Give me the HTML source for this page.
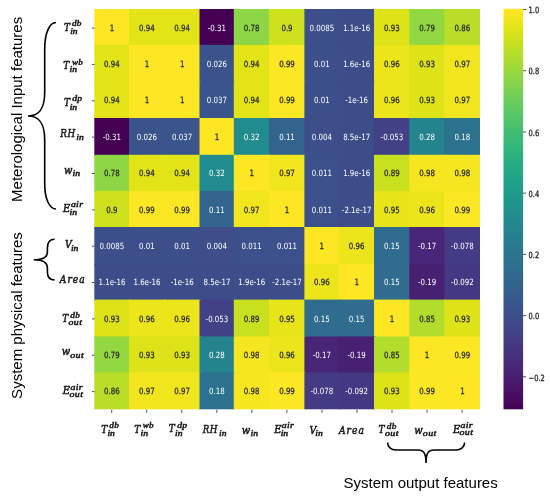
<!DOCTYPE html><html><head><meta charset="utf-8"><style>html,body{margin:0;padding:0;background:#fff;width:550px;height:497px;overflow:hidden}svg{display:block;filter:blur(0.35px)}</style></head><body>
<svg width="550" height="497" viewBox="0 0 550 497">
<rect x="94.30" y="9.00" width="36.20" height="37.40" fill="#fde725"/>
<rect x="129.00" y="9.00" width="36.75" height="37.40" fill="#e2e418"/>
<rect x="164.25" y="9.00" width="36.75" height="37.40" fill="#e2e418"/>
<rect x="199.50" y="9.00" width="35.80" height="37.40" fill="#440154"/>
<rect x="233.80" y="9.00" width="36.70" height="37.40" fill="#8ed645"/>
<rect x="269.00" y="9.00" width="36.90" height="37.40" fill="#cde11d"/>
<rect x="304.40" y="9.00" width="35.80" height="37.40" fill="#3c4f8a"/>
<rect x="338.70" y="9.00" width="36.80" height="37.40" fill="#3d4d8a"/>
<rect x="374.00" y="9.00" width="36.80" height="37.40" fill="#dde318"/>
<rect x="409.30" y="9.00" width="36.40" height="37.40" fill="#93d741"/>
<rect x="444.20" y="9.00" width="35.80" height="37.40" fill="#b8de29"/>
<rect x="94.30" y="44.90" width="36.20" height="38.05" fill="#e2e418"/>
<rect x="129.00" y="44.90" width="36.75" height="38.05" fill="#fde725"/>
<rect x="164.25" y="44.90" width="36.75" height="38.05" fill="#fde725"/>
<rect x="199.50" y="44.90" width="35.80" height="38.05" fill="#3a538b"/>
<rect x="233.80" y="44.90" width="36.70" height="38.05" fill="#e2e418"/>
<rect x="269.00" y="44.90" width="36.90" height="38.05" fill="#fbe723"/>
<rect x="304.40" y="44.90" width="35.80" height="38.05" fill="#3c4f8a"/>
<rect x="338.70" y="44.90" width="36.80" height="38.05" fill="#3d4d8a"/>
<rect x="374.00" y="44.90" width="36.80" height="38.05" fill="#ece51b"/>
<rect x="409.30" y="44.90" width="36.40" height="38.05" fill="#dde318"/>
<rect x="444.20" y="44.90" width="35.80" height="38.05" fill="#f1e51d"/>
<rect x="94.30" y="81.45" width="36.20" height="38.05" fill="#e2e418"/>
<rect x="129.00" y="81.45" width="36.75" height="38.05" fill="#fde725"/>
<rect x="164.25" y="81.45" width="36.75" height="38.05" fill="#fde725"/>
<rect x="199.50" y="81.45" width="35.80" height="38.05" fill="#39558c"/>
<rect x="233.80" y="81.45" width="36.70" height="38.05" fill="#e2e418"/>
<rect x="269.00" y="81.45" width="36.90" height="38.05" fill="#fbe723"/>
<rect x="304.40" y="81.45" width="35.80" height="38.05" fill="#3c4f8a"/>
<rect x="338.70" y="81.45" width="36.80" height="38.05" fill="#3d4d8a"/>
<rect x="374.00" y="81.45" width="36.80" height="38.05" fill="#ece51b"/>
<rect x="409.30" y="81.45" width="36.40" height="38.05" fill="#dde318"/>
<rect x="444.20" y="81.45" width="35.80" height="38.05" fill="#f1e51d"/>
<rect x="94.30" y="118.00" width="36.20" height="38.30" fill="#440154"/>
<rect x="129.00" y="118.00" width="36.75" height="38.30" fill="#3a538b"/>
<rect x="164.25" y="118.00" width="36.75" height="38.30" fill="#39558c"/>
<rect x="199.50" y="118.00" width="35.80" height="38.30" fill="#fde725"/>
<rect x="233.80" y="118.00" width="36.70" height="38.30" fill="#228b8d"/>
<rect x="269.00" y="118.00" width="36.90" height="38.30" fill="#32648e"/>
<rect x="304.40" y="118.00" width="35.80" height="38.30" fill="#3d4e8a"/>
<rect x="338.70" y="118.00" width="36.80" height="38.30" fill="#3d4d8a"/>
<rect x="374.00" y="118.00" width="36.80" height="38.30" fill="#424186"/>
<rect x="409.30" y="118.00" width="36.40" height="38.30" fill="#25838e"/>
<rect x="444.20" y="118.00" width="35.80" height="38.30" fill="#2c718e"/>
<rect x="94.30" y="154.80" width="36.20" height="37.60" fill="#8ed645"/>
<rect x="129.00" y="154.80" width="36.75" height="37.60" fill="#e2e418"/>
<rect x="164.25" y="154.80" width="36.75" height="37.60" fill="#e2e418"/>
<rect x="199.50" y="154.80" width="35.80" height="37.60" fill="#228b8d"/>
<rect x="233.80" y="154.80" width="36.70" height="37.60" fill="#fde725"/>
<rect x="269.00" y="154.80" width="36.90" height="37.60" fill="#f1e51d"/>
<rect x="304.40" y="154.80" width="35.80" height="37.60" fill="#3c508b"/>
<rect x="338.70" y="154.80" width="36.80" height="37.60" fill="#3d4d8a"/>
<rect x="374.00" y="154.80" width="36.80" height="37.60" fill="#c8e020"/>
<rect x="409.30" y="154.80" width="36.40" height="37.60" fill="#f6e620"/>
<rect x="444.20" y="154.80" width="35.80" height="37.60" fill="#f6e620"/>
<rect x="94.30" y="190.90" width="36.20" height="37.60" fill="#cde11d"/>
<rect x="129.00" y="190.90" width="36.75" height="37.60" fill="#fbe723"/>
<rect x="164.25" y="190.90" width="36.75" height="37.60" fill="#fbe723"/>
<rect x="199.50" y="190.90" width="35.80" height="37.60" fill="#32648e"/>
<rect x="233.80" y="190.90" width="36.70" height="37.60" fill="#f1e51d"/>
<rect x="269.00" y="190.90" width="36.90" height="37.60" fill="#fde725"/>
<rect x="304.40" y="190.90" width="35.80" height="37.60" fill="#3c508b"/>
<rect x="338.70" y="190.90" width="36.80" height="37.60" fill="#3d4d8a"/>
<rect x="374.00" y="190.90" width="36.80" height="37.60" fill="#e7e419"/>
<rect x="409.30" y="190.90" width="36.40" height="37.60" fill="#ece51b"/>
<rect x="444.20" y="190.90" width="35.80" height="37.60" fill="#fbe723"/>
<rect x="94.30" y="227.00" width="36.20" height="38.50" fill="#3c4f8a"/>
<rect x="129.00" y="227.00" width="36.75" height="38.50" fill="#3c4f8a"/>
<rect x="164.25" y="227.00" width="36.75" height="38.50" fill="#3c4f8a"/>
<rect x="199.50" y="227.00" width="35.80" height="38.50" fill="#3d4e8a"/>
<rect x="233.80" y="227.00" width="36.70" height="38.50" fill="#3c508b"/>
<rect x="269.00" y="227.00" width="36.90" height="38.50" fill="#3c508b"/>
<rect x="304.40" y="227.00" width="35.80" height="38.50" fill="#fde725"/>
<rect x="338.70" y="227.00" width="36.80" height="38.50" fill="#ece51b"/>
<rect x="374.00" y="227.00" width="36.80" height="38.50" fill="#2f6c8e"/>
<rect x="409.30" y="227.00" width="36.40" height="38.50" fill="#482576"/>
<rect x="444.20" y="227.00" width="35.80" height="38.50" fill="#443b84"/>
<rect x="94.30" y="264.00" width="36.20" height="37.10" fill="#3d4d8a"/>
<rect x="129.00" y="264.00" width="36.75" height="37.10" fill="#3d4d8a"/>
<rect x="164.25" y="264.00" width="36.75" height="37.10" fill="#3d4d8a"/>
<rect x="199.50" y="264.00" width="35.80" height="37.10" fill="#3d4d8a"/>
<rect x="233.80" y="264.00" width="36.70" height="37.10" fill="#3d4d8a"/>
<rect x="269.00" y="264.00" width="36.90" height="37.10" fill="#3d4d8a"/>
<rect x="304.40" y="264.00" width="35.80" height="37.10" fill="#ece51b"/>
<rect x="338.70" y="264.00" width="36.80" height="37.10" fill="#fde725"/>
<rect x="374.00" y="264.00" width="36.80" height="37.10" fill="#2f6c8e"/>
<rect x="409.30" y="264.00" width="36.40" height="37.10" fill="#482071"/>
<rect x="444.20" y="264.00" width="35.80" height="37.10" fill="#453882"/>
<rect x="94.30" y="299.60" width="36.20" height="38.40" fill="#dde318"/>
<rect x="129.00" y="299.60" width="36.75" height="38.40" fill="#ece51b"/>
<rect x="164.25" y="299.60" width="36.75" height="38.40" fill="#ece51b"/>
<rect x="199.50" y="299.60" width="35.80" height="38.40" fill="#424186"/>
<rect x="233.80" y="299.60" width="36.70" height="38.40" fill="#c8e020"/>
<rect x="269.00" y="299.60" width="36.90" height="38.40" fill="#e7e419"/>
<rect x="304.40" y="299.60" width="35.80" height="38.40" fill="#2f6c8e"/>
<rect x="338.70" y="299.60" width="36.80" height="38.40" fill="#2f6c8e"/>
<rect x="374.00" y="299.60" width="36.80" height="38.40" fill="#fde725"/>
<rect x="409.30" y="299.60" width="36.40" height="38.40" fill="#b2dd2d"/>
<rect x="444.20" y="299.60" width="35.80" height="38.40" fill="#dde318"/>
<rect x="94.30" y="336.50" width="36.20" height="37.40" fill="#93d741"/>
<rect x="129.00" y="336.50" width="36.75" height="37.40" fill="#dde318"/>
<rect x="164.25" y="336.50" width="36.75" height="37.40" fill="#dde318"/>
<rect x="199.50" y="336.50" width="35.80" height="37.40" fill="#25838e"/>
<rect x="233.80" y="336.50" width="36.70" height="37.40" fill="#f6e620"/>
<rect x="269.00" y="336.50" width="36.90" height="37.40" fill="#ece51b"/>
<rect x="304.40" y="336.50" width="35.80" height="37.40" fill="#482576"/>
<rect x="338.70" y="336.50" width="36.80" height="37.40" fill="#482071"/>
<rect x="374.00" y="336.50" width="36.80" height="37.40" fill="#b2dd2d"/>
<rect x="409.30" y="336.50" width="36.40" height="37.40" fill="#fde725"/>
<rect x="444.20" y="336.50" width="35.80" height="37.40" fill="#fbe723"/>
<rect x="94.30" y="372.40" width="36.20" height="36.90" fill="#b8de29"/>
<rect x="129.00" y="372.40" width="36.75" height="36.90" fill="#f1e51d"/>
<rect x="164.25" y="372.40" width="36.75" height="36.90" fill="#f1e51d"/>
<rect x="199.50" y="372.40" width="35.80" height="36.90" fill="#2c718e"/>
<rect x="233.80" y="372.40" width="36.70" height="36.90" fill="#f6e620"/>
<rect x="269.00" y="372.40" width="36.90" height="36.90" fill="#fbe723"/>
<rect x="304.40" y="372.40" width="35.80" height="36.90" fill="#443b84"/>
<rect x="338.70" y="372.40" width="36.80" height="36.90" fill="#453882"/>
<rect x="374.00" y="372.40" width="36.80" height="36.90" fill="#dde318"/>
<rect x="409.30" y="372.40" width="36.40" height="36.90" fill="#fbe723"/>
<rect x="444.20" y="372.40" width="35.80" height="36.90" fill="#fde725"/>
<g font-family="DejaVu Sans, sans-serif" font-size="8.6" text-anchor="middle">
<text transform="translate(111.95,30.55) scale(0.82,1)" fill="#262626" stroke="#262626" stroke-width="0.25">1</text>
<text transform="translate(146.93,30.55) scale(0.82,1)" fill="#262626" stroke="#262626" stroke-width="0.25">0.94</text>
<text transform="translate(182.18,30.55) scale(0.82,1)" fill="#262626" stroke="#262626" stroke-width="0.25">0.94</text>
<text transform="translate(216.95,30.55) scale(0.82,1)" fill="#ffffff">-0.31</text>
<text transform="translate(251.70,30.55) scale(0.82,1)" fill="#262626" stroke="#262626" stroke-width="0.25">0.78</text>
<text transform="translate(287.00,30.55) scale(0.82,1)" fill="#262626" stroke="#262626" stroke-width="0.25">0.9</text>
<text transform="translate(321.85,30.55) scale(0.82,1)" fill="#ffffff">0.0085</text>
<text transform="translate(356.65,30.55) scale(0.82,1)" fill="#ffffff">1.1e-16</text>
<text transform="translate(391.95,30.55) scale(0.82,1)" fill="#262626" stroke="#262626" stroke-width="0.25">0.93</text>
<text transform="translate(427.05,30.55) scale(0.82,1)" fill="#262626" stroke="#262626" stroke-width="0.25">0.79</text>
<text transform="translate(462.40,30.55) scale(0.82,1)" fill="#262626" stroke="#262626" stroke-width="0.25">0.86</text>
<text transform="translate(111.95,66.77) scale(0.82,1)" fill="#262626" stroke="#262626" stroke-width="0.25">0.94</text>
<text transform="translate(146.93,66.77) scale(0.82,1)" fill="#262626" stroke="#262626" stroke-width="0.25">1</text>
<text transform="translate(182.18,66.77) scale(0.82,1)" fill="#262626" stroke="#262626" stroke-width="0.25">1</text>
<text transform="translate(216.95,66.77) scale(0.82,1)" fill="#ffffff">0.026</text>
<text transform="translate(251.70,66.77) scale(0.82,1)" fill="#262626" stroke="#262626" stroke-width="0.25">0.94</text>
<text transform="translate(287.00,66.77) scale(0.82,1)" fill="#262626" stroke="#262626" stroke-width="0.25">0.99</text>
<text transform="translate(321.85,66.77) scale(0.82,1)" fill="#ffffff">0.01</text>
<text transform="translate(356.65,66.77) scale(0.82,1)" fill="#ffffff">1.6e-16</text>
<text transform="translate(391.95,66.77) scale(0.82,1)" fill="#262626" stroke="#262626" stroke-width="0.25">0.96</text>
<text transform="translate(427.05,66.77) scale(0.82,1)" fill="#262626" stroke="#262626" stroke-width="0.25">0.93</text>
<text transform="translate(462.40,66.77) scale(0.82,1)" fill="#262626" stroke="#262626" stroke-width="0.25">0.97</text>
<text transform="translate(111.95,103.32) scale(0.82,1)" fill="#262626" stroke="#262626" stroke-width="0.25">0.94</text>
<text transform="translate(146.93,103.32) scale(0.82,1)" fill="#262626" stroke="#262626" stroke-width="0.25">1</text>
<text transform="translate(182.18,103.32) scale(0.82,1)" fill="#262626" stroke="#262626" stroke-width="0.25">1</text>
<text transform="translate(216.95,103.32) scale(0.82,1)" fill="#ffffff">0.037</text>
<text transform="translate(251.70,103.32) scale(0.82,1)" fill="#262626" stroke="#262626" stroke-width="0.25">0.94</text>
<text transform="translate(287.00,103.32) scale(0.82,1)" fill="#262626" stroke="#262626" stroke-width="0.25">0.99</text>
<text transform="translate(321.85,103.32) scale(0.82,1)" fill="#ffffff">0.01</text>
<text transform="translate(356.65,103.32) scale(0.82,1)" fill="#ffffff">-1e-16</text>
<text transform="translate(391.95,103.32) scale(0.82,1)" fill="#262626" stroke="#262626" stroke-width="0.25">0.96</text>
<text transform="translate(427.05,103.32) scale(0.82,1)" fill="#262626" stroke="#262626" stroke-width="0.25">0.93</text>
<text transform="translate(462.40,103.32) scale(0.82,1)" fill="#262626" stroke="#262626" stroke-width="0.25">0.97</text>
<text transform="translate(111.95,140.00) scale(0.82,1)" fill="#ffffff">-0.31</text>
<text transform="translate(146.93,140.00) scale(0.82,1)" fill="#ffffff">0.026</text>
<text transform="translate(182.18,140.00) scale(0.82,1)" fill="#ffffff">0.037</text>
<text transform="translate(216.95,140.00) scale(0.82,1)" fill="#262626" stroke="#262626" stroke-width="0.25">1</text>
<text transform="translate(251.70,140.00) scale(0.82,1)" fill="#ffffff">0.32</text>
<text transform="translate(287.00,140.00) scale(0.82,1)" fill="#ffffff">0.11</text>
<text transform="translate(321.85,140.00) scale(0.82,1)" fill="#ffffff">0.004</text>
<text transform="translate(356.65,140.00) scale(0.82,1)" fill="#ffffff">8.5e-17</text>
<text transform="translate(391.95,140.00) scale(0.82,1)" fill="#ffffff">-0.053</text>
<text transform="translate(427.05,140.00) scale(0.82,1)" fill="#ffffff">0.28</text>
<text transform="translate(462.40,140.00) scale(0.82,1)" fill="#ffffff">0.18</text>
<text transform="translate(111.95,176.45) scale(0.82,1)" fill="#262626" stroke="#262626" stroke-width="0.25">0.78</text>
<text transform="translate(146.93,176.45) scale(0.82,1)" fill="#262626" stroke="#262626" stroke-width="0.25">0.94</text>
<text transform="translate(182.18,176.45) scale(0.82,1)" fill="#262626" stroke="#262626" stroke-width="0.25">0.94</text>
<text transform="translate(216.95,176.45) scale(0.82,1)" fill="#ffffff">0.32</text>
<text transform="translate(251.70,176.45) scale(0.82,1)" fill="#262626" stroke="#262626" stroke-width="0.25">1</text>
<text transform="translate(287.00,176.45) scale(0.82,1)" fill="#262626" stroke="#262626" stroke-width="0.25">0.97</text>
<text transform="translate(321.85,176.45) scale(0.82,1)" fill="#ffffff">0.011</text>
<text transform="translate(356.65,176.45) scale(0.82,1)" fill="#ffffff">1.9e-16</text>
<text transform="translate(391.95,176.45) scale(0.82,1)" fill="#262626" stroke="#262626" stroke-width="0.25">0.89</text>
<text transform="translate(427.05,176.45) scale(0.82,1)" fill="#262626" stroke="#262626" stroke-width="0.25">0.98</text>
<text transform="translate(462.40,176.45) scale(0.82,1)" fill="#262626" stroke="#262626" stroke-width="0.25">0.98</text>
<text transform="translate(111.95,212.55) scale(0.82,1)" fill="#262626" stroke="#262626" stroke-width="0.25">0.9</text>
<text transform="translate(146.93,212.55) scale(0.82,1)" fill="#262626" stroke="#262626" stroke-width="0.25">0.99</text>
<text transform="translate(182.18,212.55) scale(0.82,1)" fill="#262626" stroke="#262626" stroke-width="0.25">0.99</text>
<text transform="translate(216.95,212.55) scale(0.82,1)" fill="#ffffff">0.11</text>
<text transform="translate(251.70,212.55) scale(0.82,1)" fill="#262626" stroke="#262626" stroke-width="0.25">0.97</text>
<text transform="translate(287.00,212.55) scale(0.82,1)" fill="#262626" stroke="#262626" stroke-width="0.25">1</text>
<text transform="translate(321.85,212.55) scale(0.82,1)" fill="#ffffff">0.011</text>
<text transform="translate(356.65,212.55) scale(0.82,1)" fill="#ffffff">-2.1e-17</text>
<text transform="translate(391.95,212.55) scale(0.82,1)" fill="#262626" stroke="#262626" stroke-width="0.25">0.95</text>
<text transform="translate(427.05,212.55) scale(0.82,1)" fill="#262626" stroke="#262626" stroke-width="0.25">0.96</text>
<text transform="translate(462.40,212.55) scale(0.82,1)" fill="#262626" stroke="#262626" stroke-width="0.25">0.99</text>
<text transform="translate(111.95,249.10) scale(0.82,1)" fill="#ffffff">0.0085</text>
<text transform="translate(146.93,249.10) scale(0.82,1)" fill="#ffffff">0.01</text>
<text transform="translate(182.18,249.10) scale(0.82,1)" fill="#ffffff">0.01</text>
<text transform="translate(216.95,249.10) scale(0.82,1)" fill="#ffffff">0.004</text>
<text transform="translate(251.70,249.10) scale(0.82,1)" fill="#ffffff">0.011</text>
<text transform="translate(287.00,249.10) scale(0.82,1)" fill="#ffffff">0.011</text>
<text transform="translate(321.85,249.10) scale(0.82,1)" fill="#262626" stroke="#262626" stroke-width="0.25">1</text>
<text transform="translate(356.65,249.10) scale(0.82,1)" fill="#262626" stroke="#262626" stroke-width="0.25">0.96</text>
<text transform="translate(391.95,249.10) scale(0.82,1)" fill="#ffffff">0.15</text>
<text transform="translate(427.05,249.10) scale(0.82,1)" fill="#ffffff">-0.17</text>
<text transform="translate(462.40,249.10) scale(0.82,1)" fill="#ffffff">-0.078</text>
<text transform="translate(111.95,285.40) scale(0.82,1)" fill="#ffffff">1.1e-16</text>
<text transform="translate(146.93,285.40) scale(0.82,1)" fill="#ffffff">1.6e-16</text>
<text transform="translate(182.18,285.40) scale(0.82,1)" fill="#ffffff">-1e-16</text>
<text transform="translate(216.95,285.40) scale(0.82,1)" fill="#ffffff">8.5e-17</text>
<text transform="translate(251.70,285.40) scale(0.82,1)" fill="#ffffff">1.9e-16</text>
<text transform="translate(287.00,285.40) scale(0.82,1)" fill="#ffffff">-2.1e-17</text>
<text transform="translate(321.85,285.40) scale(0.82,1)" fill="#262626" stroke="#262626" stroke-width="0.25">0.96</text>
<text transform="translate(356.65,285.40) scale(0.82,1)" fill="#262626" stroke="#262626" stroke-width="0.25">1</text>
<text transform="translate(391.95,285.40) scale(0.82,1)" fill="#ffffff">0.15</text>
<text transform="translate(427.05,285.40) scale(0.82,1)" fill="#ffffff">-0.19</text>
<text transform="translate(462.40,285.40) scale(0.82,1)" fill="#ffffff">-0.092</text>
<text transform="translate(111.95,321.65) scale(0.82,1)" fill="#262626" stroke="#262626" stroke-width="0.25">0.93</text>
<text transform="translate(146.93,321.65) scale(0.82,1)" fill="#262626" stroke="#262626" stroke-width="0.25">0.96</text>
<text transform="translate(182.18,321.65) scale(0.82,1)" fill="#262626" stroke="#262626" stroke-width="0.25">0.96</text>
<text transform="translate(216.95,321.65) scale(0.82,1)" fill="#ffffff">-0.053</text>
<text transform="translate(251.70,321.65) scale(0.82,1)" fill="#262626" stroke="#262626" stroke-width="0.25">0.89</text>
<text transform="translate(287.00,321.65) scale(0.82,1)" fill="#262626" stroke="#262626" stroke-width="0.25">0.95</text>
<text transform="translate(321.85,321.65) scale(0.82,1)" fill="#ffffff">0.15</text>
<text transform="translate(356.65,321.65) scale(0.82,1)" fill="#ffffff">0.15</text>
<text transform="translate(391.95,321.65) scale(0.82,1)" fill="#262626" stroke="#262626" stroke-width="0.25">1</text>
<text transform="translate(427.05,321.65) scale(0.82,1)" fill="#262626" stroke="#262626" stroke-width="0.25">0.85</text>
<text transform="translate(462.40,321.65) scale(0.82,1)" fill="#262626" stroke="#262626" stroke-width="0.25">0.93</text>
<text transform="translate(111.95,358.05) scale(0.82,1)" fill="#262626" stroke="#262626" stroke-width="0.25">0.79</text>
<text transform="translate(146.93,358.05) scale(0.82,1)" fill="#262626" stroke="#262626" stroke-width="0.25">0.93</text>
<text transform="translate(182.18,358.05) scale(0.82,1)" fill="#262626" stroke="#262626" stroke-width="0.25">0.93</text>
<text transform="translate(216.95,358.05) scale(0.82,1)" fill="#ffffff">0.28</text>
<text transform="translate(251.70,358.05) scale(0.82,1)" fill="#262626" stroke="#262626" stroke-width="0.25">0.98</text>
<text transform="translate(287.00,358.05) scale(0.82,1)" fill="#262626" stroke="#262626" stroke-width="0.25">0.96</text>
<text transform="translate(321.85,358.05) scale(0.82,1)" fill="#ffffff">-0.17</text>
<text transform="translate(356.65,358.05) scale(0.82,1)" fill="#ffffff">-0.19</text>
<text transform="translate(391.95,358.05) scale(0.82,1)" fill="#262626" stroke="#262626" stroke-width="0.25">0.85</text>
<text transform="translate(427.05,358.05) scale(0.82,1)" fill="#262626" stroke="#262626" stroke-width="0.25">1</text>
<text transform="translate(462.40,358.05) scale(0.82,1)" fill="#262626" stroke="#262626" stroke-width="0.25">0.99</text>
<text transform="translate(111.95,394.45) scale(0.82,1)" fill="#262626" stroke="#262626" stroke-width="0.25">0.86</text>
<text transform="translate(146.93,394.45) scale(0.82,1)" fill="#262626" stroke="#262626" stroke-width="0.25">0.97</text>
<text transform="translate(182.18,394.45) scale(0.82,1)" fill="#262626" stroke="#262626" stroke-width="0.25">0.97</text>
<text transform="translate(216.95,394.45) scale(0.82,1)" fill="#ffffff">0.18</text>
<text transform="translate(251.70,394.45) scale(0.82,1)" fill="#262626" stroke="#262626" stroke-width="0.25">0.98</text>
<text transform="translate(287.00,394.45) scale(0.82,1)" fill="#262626" stroke="#262626" stroke-width="0.25">0.99</text>
<text transform="translate(321.85,394.45) scale(0.82,1)" fill="#ffffff">-0.078</text>
<text transform="translate(356.65,394.45) scale(0.82,1)" fill="#ffffff">-0.092</text>
<text transform="translate(391.95,394.45) scale(0.82,1)" fill="#262626" stroke="#262626" stroke-width="0.25">0.93</text>
<text transform="translate(427.05,394.45) scale(0.82,1)" fill="#262626" stroke="#262626" stroke-width="0.25">0.99</text>
<text transform="translate(462.40,394.45) scale(0.82,1)" fill="#262626" stroke="#262626" stroke-width="0.25">1</text>
</g>
<line x1="92.00" y1="28.10" x2="94.50" y2="28.10" stroke="#3a3a3a" stroke-width="0.9"/>
<line x1="92.00" y1="64.45" x2="94.50" y2="64.45" stroke="#3a3a3a" stroke-width="0.9"/>
<line x1="92.00" y1="100.80" x2="94.50" y2="100.80" stroke="#3a3a3a" stroke-width="0.9"/>
<line x1="92.00" y1="137.15" x2="94.50" y2="137.15" stroke="#3a3a3a" stroke-width="0.9"/>
<line x1="92.00" y1="173.50" x2="94.50" y2="173.50" stroke="#3a3a3a" stroke-width="0.9"/>
<line x1="92.00" y1="209.85" x2="94.50" y2="209.85" stroke="#3a3a3a" stroke-width="0.9"/>
<line x1="92.00" y1="246.20" x2="94.50" y2="246.20" stroke="#3a3a3a" stroke-width="0.9"/>
<line x1="92.00" y1="282.55" x2="94.50" y2="282.55" stroke="#3a3a3a" stroke-width="0.9"/>
<line x1="92.00" y1="318.90" x2="94.50" y2="318.90" stroke="#3a3a3a" stroke-width="0.9"/>
<line x1="92.00" y1="355.25" x2="94.50" y2="355.25" stroke="#3a3a3a" stroke-width="0.9"/>
<line x1="92.00" y1="391.60" x2="94.50" y2="391.60" stroke="#3a3a3a" stroke-width="0.9"/>
<line x1="111.70" y1="409.80" x2="111.70" y2="412.80" stroke="#3a3a3a" stroke-width="0.9"/>
<line x1="146.74" y1="409.80" x2="146.74" y2="412.80" stroke="#3a3a3a" stroke-width="0.9"/>
<line x1="181.78" y1="409.80" x2="181.78" y2="412.80" stroke="#3a3a3a" stroke-width="0.9"/>
<line x1="216.82" y1="409.80" x2="216.82" y2="412.80" stroke="#3a3a3a" stroke-width="0.9"/>
<line x1="251.86" y1="409.80" x2="251.86" y2="412.80" stroke="#3a3a3a" stroke-width="0.9"/>
<line x1="286.90" y1="409.80" x2="286.90" y2="412.80" stroke="#3a3a3a" stroke-width="0.9"/>
<line x1="321.94" y1="409.80" x2="321.94" y2="412.80" stroke="#3a3a3a" stroke-width="0.9"/>
<line x1="356.98" y1="409.80" x2="356.98" y2="412.80" stroke="#3a3a3a" stroke-width="0.9"/>
<line x1="392.02" y1="409.80" x2="392.02" y2="412.80" stroke="#3a3a3a" stroke-width="0.9"/>
<line x1="427.06" y1="409.80" x2="427.06" y2="412.80" stroke="#3a3a3a" stroke-width="0.9"/>
<line x1="462.10" y1="409.80" x2="462.10" y2="412.80" stroke="#3a3a3a" stroke-width="0.9"/>
<defs><linearGradient id="g" x1="0" y1="0" x2="0" y2="1"><stop offset="0.0000" stop-color="#fde725"/><stop offset="0.0156" stop-color="#f6e620"/><stop offset="0.0312" stop-color="#ece51b"/><stop offset="0.0469" stop-color="#e2e418"/><stop offset="0.0625" stop-color="#d8e219"/><stop offset="0.0781" stop-color="#cde11d"/><stop offset="0.0938" stop-color="#c2df23"/><stop offset="0.1094" stop-color="#b8de29"/><stop offset="0.1250" stop-color="#addc30"/><stop offset="0.1406" stop-color="#a2da37"/><stop offset="0.1562" stop-color="#98d83e"/><stop offset="0.1719" stop-color="#8ed645"/><stop offset="0.1875" stop-color="#84d44b"/><stop offset="0.2031" stop-color="#7ad151"/><stop offset="0.2188" stop-color="#70cf57"/><stop offset="0.2344" stop-color="#67cc5c"/><stop offset="0.2500" stop-color="#5ec962"/><stop offset="0.2656" stop-color="#56c667"/><stop offset="0.2812" stop-color="#4ec36b"/><stop offset="0.2969" stop-color="#46c06f"/><stop offset="0.3125" stop-color="#3fbc73"/><stop offset="0.3281" stop-color="#38b977"/><stop offset="0.3438" stop-color="#32b67a"/><stop offset="0.3594" stop-color="#2db27d"/><stop offset="0.3750" stop-color="#28ae80"/><stop offset="0.3906" stop-color="#25ab82"/><stop offset="0.4062" stop-color="#22a785"/><stop offset="0.4219" stop-color="#20a386"/><stop offset="0.4375" stop-color="#1fa088"/><stop offset="0.4531" stop-color="#1e9c89"/><stop offset="0.4688" stop-color="#1f988b"/><stop offset="0.4844" stop-color="#1f948c"/><stop offset="0.5000" stop-color="#21918c"/><stop offset="0.5156" stop-color="#228d8d"/><stop offset="0.5312" stop-color="#23898e"/><stop offset="0.5469" stop-color="#25858e"/><stop offset="0.5625" stop-color="#26828e"/><stop offset="0.5781" stop-color="#277e8e"/><stop offset="0.5938" stop-color="#297a8e"/><stop offset="0.6094" stop-color="#2a768e"/><stop offset="0.6250" stop-color="#2c728e"/><stop offset="0.6406" stop-color="#2e6f8e"/><stop offset="0.6562" stop-color="#2f6b8e"/><stop offset="0.6719" stop-color="#31678e"/><stop offset="0.6875" stop-color="#33638d"/><stop offset="0.7031" stop-color="#355f8d"/><stop offset="0.7188" stop-color="#375b8d"/><stop offset="0.7344" stop-color="#39568c"/><stop offset="0.7500" stop-color="#3b528b"/><stop offset="0.7656" stop-color="#3d4e8a"/><stop offset="0.7812" stop-color="#3e4989"/><stop offset="0.7969" stop-color="#404588"/><stop offset="0.8125" stop-color="#424086"/><stop offset="0.8281" stop-color="#443b84"/><stop offset="0.8438" stop-color="#453781"/><stop offset="0.8594" stop-color="#46327e"/><stop offset="0.8750" stop-color="#472d7b"/><stop offset="0.8906" stop-color="#482878"/><stop offset="0.9062" stop-color="#482374"/><stop offset="0.9219" stop-color="#481d6f"/><stop offset="0.9375" stop-color="#48186a"/><stop offset="0.9531" stop-color="#471365"/><stop offset="0.9688" stop-color="#470d60"/><stop offset="0.9844" stop-color="#46075a"/><stop offset="1.0000" stop-color="#440154"/></linearGradient></defs>
<rect x="503.5" y="8.8" width="19.6" height="400.5" fill="url(#g)"/>
<line x1="523.10" y1="9.50" x2="526.10" y2="9.50" stroke="#3a3a3a" stroke-width="0.9"/>
<text transform="translate(528.60,13.25) scale(0.78,1)" font-family="DejaVu Sans, sans-serif" font-size="8.6" fill="#262626" stroke="#262626" stroke-width="0.3">1.0</text>
<line x1="523.10" y1="70.72" x2="526.10" y2="70.72" stroke="#3a3a3a" stroke-width="0.9"/>
<text transform="translate(528.60,74.47) scale(0.78,1)" font-family="DejaVu Sans, sans-serif" font-size="8.6" fill="#262626" stroke="#262626" stroke-width="0.3">0.8</text>
<line x1="523.10" y1="131.94" x2="526.10" y2="131.94" stroke="#3a3a3a" stroke-width="0.9"/>
<text transform="translate(528.60,135.69) scale(0.78,1)" font-family="DejaVu Sans, sans-serif" font-size="8.6" fill="#262626" stroke="#262626" stroke-width="0.3">0.6</text>
<line x1="523.10" y1="193.16" x2="526.10" y2="193.16" stroke="#3a3a3a" stroke-width="0.9"/>
<text transform="translate(528.60,196.91) scale(0.78,1)" font-family="DejaVu Sans, sans-serif" font-size="8.6" fill="#262626" stroke="#262626" stroke-width="0.3">0.4</text>
<line x1="523.10" y1="254.38" x2="526.10" y2="254.38" stroke="#3a3a3a" stroke-width="0.9"/>
<text transform="translate(528.60,258.13) scale(0.78,1)" font-family="DejaVu Sans, sans-serif" font-size="8.6" fill="#262626" stroke="#262626" stroke-width="0.3">0.2</text>
<line x1="523.10" y1="315.60" x2="526.10" y2="315.60" stroke="#3a3a3a" stroke-width="0.9"/>
<text transform="translate(528.60,319.35) scale(0.78,1)" font-family="DejaVu Sans, sans-serif" font-size="8.6" fill="#262626" stroke="#262626" stroke-width="0.3">0.0</text>
<line x1="523.10" y1="376.82" x2="526.10" y2="376.82" stroke="#3a3a3a" stroke-width="0.9"/>
<text transform="translate(528.60,380.57) scale(0.78,1)" font-family="DejaVu Sans, sans-serif" font-size="8.6" fill="#262626" stroke="#262626" stroke-width="0.3">−0.2</text>
<g font-style="italic" fill="#1a1a1a" stroke="#1a1a1a">
<text transform="translate(64.00,30.80) scale(0.932,1)" font-size="10.8" font-family="DejaVu Serif Condensed, serif" font-stretch="condensed" stroke-width="0.5">T</text>
<text transform="translate(71.90,26.40) scale(1.257,1)" font-size="7.4" font-family="Liberation Serif, serif" stroke-width="0.45" letter-spacing="0.24">db</text>
<text transform="translate(70.20,34.20) scale(1.303,1)" font-size="7.4" font-family="Liberation Serif, serif" stroke-width="0.45">in</text>
<text transform="translate(63.20,69.30) scale(0.932,1)" font-size="10.8" font-family="DejaVu Serif Condensed, serif" font-stretch="condensed" stroke-width="0.5">T</text>
<text transform="translate(71.90,64.50) scale(1.227,1)" font-size="7.4" font-family="Liberation Serif, serif" stroke-width="0.45" letter-spacing="0.24">wb</text>
<text transform="translate(69.50,72.40) scale(1.303,1)" font-size="7.4" font-family="Liberation Serif, serif" stroke-width="0.45">in</text>
<text transform="translate(64.00,105.50) scale(0.932,1)" font-size="10.8" font-family="DejaVu Serif Condensed, serif" font-stretch="condensed" stroke-width="0.5">T</text>
<text transform="translate(72.20,101.20) scale(1.297,1)" font-size="7.4" font-family="Liberation Serif, serif" stroke-width="0.45" letter-spacing="0.23">dp</text>
<text transform="translate(69.70,109.50) scale(1.303,1)" font-size="7.4" font-family="Liberation Serif, serif" stroke-width="0.45">in</text>
<text transform="translate(60.24,136.50) scale(0.907,1)" font-size="10.8" font-family="DejaVu Serif Condensed, serif" font-stretch="condensed" stroke-width="0.5" letter-spacing="0.66">RH</text>
<text transform="translate(76.30,139.50) scale(1.303,1)" font-size="7.4" font-family="Liberation Serif, serif" stroke-width="0.45">in</text>
<text transform="translate(63.90,173.50) scale(1.010,1)" font-size="10.8" font-family="DejaVu Serif Condensed, serif" font-stretch="condensed" stroke-width="0.5">w</text>
<text transform="translate(72.60,175.80) scale(1.303,1)" font-size="7.4" font-family="Liberation Serif, serif" stroke-width="0.45">in</text>
<text transform="translate(63.05,211.50) scale(1.021,1)" font-size="10.8" font-family="DejaVu Serif Condensed, serif" font-stretch="condensed" stroke-width="0.5">E</text>
<text transform="translate(70.90,206.70) scale(1.327,1)" font-size="7.4" font-family="Liberation Serif, serif" stroke-width="0.45" letter-spacing="0.23">air</text>
<text transform="translate(69.50,214.80) scale(1.303,1)" font-size="7.4" font-family="Liberation Serif, serif" stroke-width="0.45">in</text>
<text transform="translate(65.10,248.40) scale(0.967,1)" font-size="10.8" font-family="DejaVu Serif Condensed, serif" font-stretch="condensed" stroke-width="0.5">V</text>
<text transform="translate(70.90,251.00) scale(1.303,1)" font-size="7.4" font-family="Liberation Serif, serif" stroke-width="0.45">in</text>
<text transform="translate(59.81,282.60) scale(0.948,1)" font-size="10.8" font-family="DejaVu Serif Condensed, serif" font-stretch="condensed" stroke-width="0.5" letter-spacing="1.05">Area</text>
<text transform="translate(62.20,322.20) scale(0.932,1)" font-size="10.8" font-family="DejaVu Serif Condensed, serif" font-stretch="condensed" stroke-width="0.5">T</text>
<text transform="translate(70.20,317.80) scale(1.257,1)" font-size="7.4" font-family="Liberation Serif, serif" stroke-width="0.45" letter-spacing="0.24">db</text>
<text transform="translate(68.40,324.70) scale(1.343,1)" font-size="7.4" font-family="Liberation Serif, serif" stroke-width="0.45" letter-spacing="0.30">out</text>
<text transform="translate(61.70,355.30) scale(1.010,1)" font-size="10.8" font-family="DejaVu Serif Condensed, serif" font-stretch="condensed" stroke-width="0.5">w</text>
<text transform="translate(70.20,357.50) scale(1.343,1)" font-size="7.4" font-family="Liberation Serif, serif" stroke-width="0.45" letter-spacing="0.30">out</text>
<text transform="translate(62.75,394.30) scale(1.021,1)" font-size="10.8" font-family="DejaVu Serif Condensed, serif" font-stretch="condensed" stroke-width="0.5">E</text>
<text transform="translate(70.60,389.60) scale(1.327,1)" font-size="7.4" font-family="Liberation Serif, serif" stroke-width="0.45" letter-spacing="0.23">air</text>
<text transform="translate(69.50,396.90) scale(1.343,1)" font-size="7.4" font-family="Liberation Serif, serif" stroke-width="0.45" letter-spacing="0.30">out</text>
<text transform="translate(101.20,432.80) scale(0.932,1)" font-size="10.8" font-family="DejaVu Serif Condensed, serif" font-stretch="condensed" stroke-width="0.5">T</text>
<text transform="translate(109.20,428.10) scale(1.257,1)" font-size="7.4" font-family="Liberation Serif, serif" stroke-width="0.45" letter-spacing="0.24">db</text>
<text transform="translate(107.40,436.10) scale(1.303,1)" font-size="7.4" font-family="Liberation Serif, serif" stroke-width="0.45">in</text>
<text transform="translate(134.30,432.80) scale(0.932,1)" font-size="10.8" font-family="DejaVu Serif Condensed, serif" font-stretch="condensed" stroke-width="0.5">T</text>
<text transform="translate(142.70,428.20) scale(1.227,1)" font-size="7.4" font-family="Liberation Serif, serif" stroke-width="0.45" letter-spacing="0.24">wb</text>
<text transform="translate(140.50,436.10) scale(1.303,1)" font-size="7.4" font-family="Liberation Serif, serif" stroke-width="0.45">in</text>
<text transform="translate(168.80,431.90) scale(0.932,1)" font-size="10.8" font-family="DejaVu Serif Condensed, serif" font-stretch="condensed" stroke-width="0.5">T</text>
<text transform="translate(177.20,427.60) scale(1.297,1)" font-size="7.4" font-family="Liberation Serif, serif" stroke-width="0.45" letter-spacing="0.23">dp</text>
<text transform="translate(175.00,435.80) scale(1.303,1)" font-size="7.4" font-family="Liberation Serif, serif" stroke-width="0.45">in</text>
<text transform="translate(202.64,433.40) scale(0.907,1)" font-size="10.8" font-family="DejaVu Serif Condensed, serif" font-stretch="condensed" stroke-width="0.5" letter-spacing="0.66">RH</text>
<text transform="translate(219.00,435.70) scale(1.303,1)" font-size="7.4" font-family="Liberation Serif, serif" stroke-width="0.45">in</text>
<text transform="translate(241.80,433.50) scale(1.010,1)" font-size="10.8" font-family="DejaVu Serif Condensed, serif" font-stretch="condensed" stroke-width="0.5">w</text>
<text transform="translate(250.60,435.60) scale(1.303,1)" font-size="7.4" font-family="Liberation Serif, serif" stroke-width="0.45">in</text>
<text transform="translate(274.15,432.90) scale(1.021,1)" font-size="10.8" font-family="DejaVu Serif Condensed, serif" font-stretch="condensed" stroke-width="0.5">E</text>
<text transform="translate(281.80,428.00) scale(1.327,1)" font-size="7.4" font-family="Liberation Serif, serif" stroke-width="0.45" letter-spacing="0.23">air</text>
<text transform="translate(280.70,436.10) scale(1.303,1)" font-size="7.4" font-family="Liberation Serif, serif" stroke-width="0.45">in</text>
<text transform="translate(309.50,433.50) scale(0.967,1)" font-size="10.8" font-family="DejaVu Serif Condensed, serif" font-stretch="condensed" stroke-width="0.5">V</text>
<text transform="translate(315.30,435.60) scale(1.303,1)" font-size="7.4" font-family="Liberation Serif, serif" stroke-width="0.45">in</text>
<text transform="translate(338.91,433.50) scale(0.948,1)" font-size="10.8" font-family="DejaVu Serif Condensed, serif" font-stretch="condensed" stroke-width="0.5" letter-spacing="1.05">Area</text>
<text transform="translate(378.50,433.40) scale(0.932,1)" font-size="10.8" font-family="DejaVu Serif Condensed, serif" font-stretch="condensed" stroke-width="0.5">T</text>
<text transform="translate(386.80,428.70) scale(1.257,1)" font-size="7.4" font-family="Liberation Serif, serif" stroke-width="0.45" letter-spacing="0.24">db</text>
<text transform="translate(385.00,435.70) scale(1.343,1)" font-size="7.4" font-family="Liberation Serif, serif" stroke-width="0.45" letter-spacing="0.30">out</text>
<text transform="translate(414.30,433.50) scale(1.010,1)" font-size="10.8" font-family="DejaVu Serif Condensed, serif" font-stretch="condensed" stroke-width="0.5">w</text>
<text transform="translate(422.80,435.70) scale(1.343,1)" font-size="7.4" font-family="Liberation Serif, serif" stroke-width="0.45" letter-spacing="0.30">out</text>
<text transform="translate(453.05,432.80) scale(1.021,1)" font-size="10.8" font-family="DejaVu Serif Condensed, serif" font-stretch="condensed" stroke-width="0.5">E</text>
<text transform="translate(460.60,427.70) scale(1.327,1)" font-size="7.4" font-family="Liberation Serif, serif" stroke-width="0.45" letter-spacing="0.23">air</text>
<text transform="translate(459.50,435.30) scale(1.343,1)" font-size="7.4" font-family="Liberation Serif, serif" stroke-width="0.45" letter-spacing="0.30">out</text>
</g>
<text transform="translate(22,109.4) rotate(-90)" text-anchor="middle" font-family="Liberation Sans, Arial, sans-serif" font-size="15" fill="#000">Meterological Input features</text>
<text transform="translate(22.3,315.5) rotate(-90)" text-anchor="middle" font-family="Liberation Sans, Arial, sans-serif" font-size="15" fill="#000">System physical features</text>
<text x="420.6" y="488.3" text-anchor="middle" font-family="Liberation Sans, Arial, sans-serif" font-size="15" fill="#000">System output features</text>
<path d="M56,22.5 C50,22.5 44.7,32 44.7,49 L44.7,92 C44.7,108 40,116 28,116 M28,116 C40,116 44.7,124 44.7,140 L44.7,184 C44.7,200 50,209 56,209" fill="none" stroke="#000" stroke-width="1.6" stroke-linecap="butt"/>
<path d="M54.6,239.3 C50,239.3 47.4,242 47.4,248 L47.4,252 C47.4,257 44,259.8 33.7,259.8 M33.7,259.8 C44,259.8 47.4,263 47.4,268 L47.4,272 C47.4,278 50,280 54.6,280" fill="none" stroke="#000" stroke-width="1.6" stroke-linecap="butt"/>
<path d="M387.6,442.6 C387.6,447 391,450 396,450 L418,450 C423,450 426,452 426,463 M426,463 C426,452 429,450 434,450 L456,450 C461,450 464.6,447 464.6,442.6" fill="none" stroke="#000" stroke-width="1.6" stroke-linecap="butt"/>
</svg></body></html>
